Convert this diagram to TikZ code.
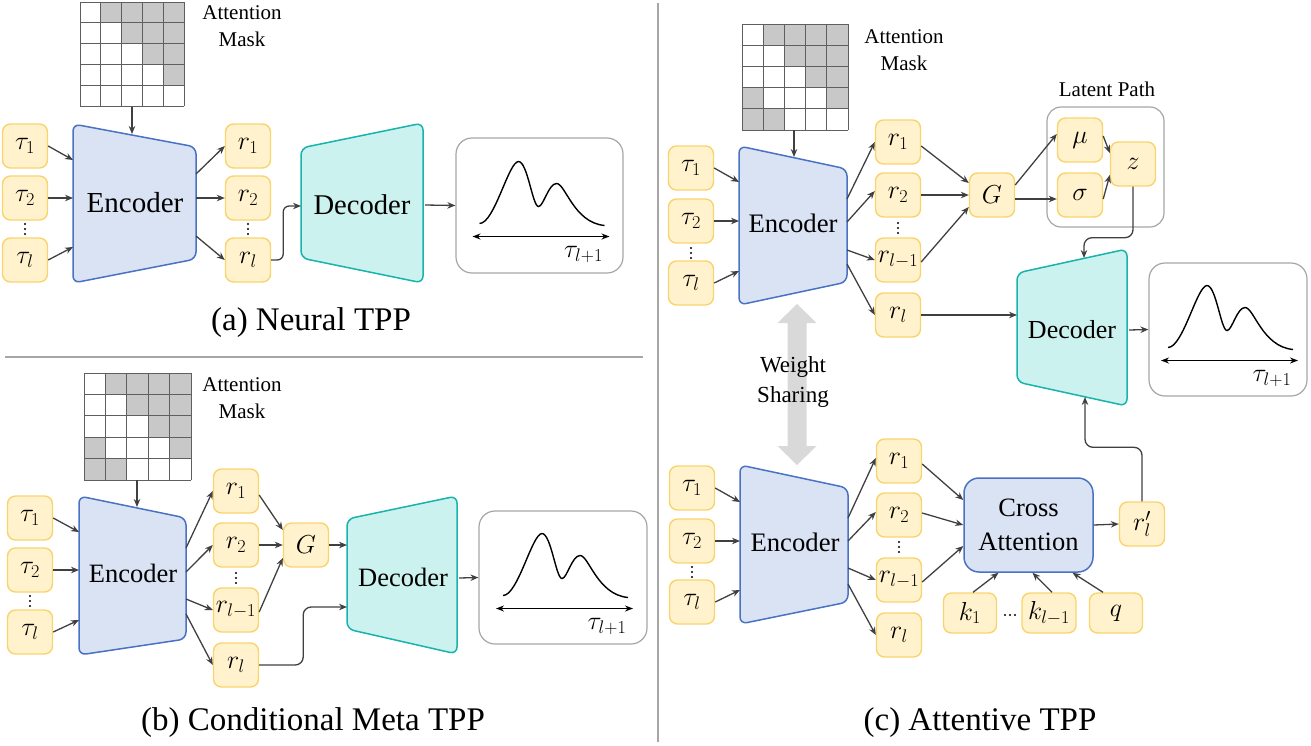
\RequirePackage{fix-cm}
\documentclass[tikz,border=0pt]{standalone}
\usepackage{fontspec}
\setmainfont{Liberation Serif}
\usetikzlibrary{arrows.meta}
\definecolor{yfill}{HTML}{FFF2CC}
\definecolor{ydraw}{HTML}{F9D46E}
\definecolor{efill}{HTML}{DAE3F3}
\definecolor{edraw}{HTML}{4A72C4}
\definecolor{dfill}{HTML}{CCF2EF}
\definecolor{ddraw}{HTML}{17B3AD}
\definecolor{arrc}{HTML}{404040}
\definecolor{outc}{HTML}{A6A6A6}
\definecolor{sepc}{HTML}{A6A6A6}
\definecolor{maskg}{HTML}{C8C8C8}
\definecolor{maskl}{HTML}{5F5F5F}
\definecolor{wsc}{HTML}{D9D9D9}
\newcommand{\drawmask}[4]{%
  \foreach \c/\r in {#4} {\fill[maskg] ({#1+\c*#3},{#2+\r*#3}) rectangle ++(#3,#3);}
  \foreach \i in {0,...,5} {%
    \draw[maskl, line width=0.9pt] ({#1+\i*#3},#2) -- ++(0,{5*#3});
    \draw[maskl, line width=0.9pt] (#1,{#2+\i*#3}) -- ++({5*#3},0);
  }%
}
\newcommand{\vdt}[2]{\fill[black] (#1,{#2-5}) circle[radius=1.1pt] (#1,#2) circle[radius=1.1pt] (#1,{#2+5}) circle[radius=1.1pt];}
\newcommand{\hdt}[2]{\fill[black] ({#1-5},#2) circle[radius=1.1pt] (#1,#2) circle[radius=1.1pt] ({#1+5},#2) circle[radius=1.1pt];}
\begin{document}
\begin{tikzpicture}[x=1pt,y=-1pt,
  ybox/.style={draw=ydraw, fill=yfill, line width=1.4pt, rounded corners=8pt, minimum width=45pt, minimum height=44pt, inner sep=0pt, font=\fontsize{26}{30}\selectfont},
  enc/.style={draw=edraw, fill=efill, line width=1.5pt, rounded corners=7pt},
  dec/.style={draw=ddraw, fill=dfill, line width=1.5pt, rounded corners=7pt},
  arr/.style={draw=arrc, line width=1.3pt, -{Stealth[length=8pt,width=6.5pt]}},
  outbox/.style={draw=outc, line width=1.2pt, rounded corners=16pt, inner sep=0pt},
  lbl/.style={font=\fontsize{21}{26.5}\selectfont, align=center, inner sep=0pt},
  bigtxt/.style={font=\fontsize{27}{32}\selectfont, inner sep=0pt},
  captxt/.style={font=\fontsize{33}{38}\selectfont, inner sep=0pt},
  sepline/.style={draw=sepc, line width=1.2pt},
  crossbox/.style={draw=edraw, fill=efill, line width=1.5pt, rounded corners=15pt, minimum width=129pt, minimum height=94pt, align=center, inner sep=0pt, font=\fontsize{26.5}{34}\selectfont},
  density/.pic={
    \draw[line width=1.4pt, black] (-60,18) .. controls (-45,18) and (-31,-44) .. (-21,-44) .. controls (-12,-44) and (-7,1) .. (-1,1) .. controls (4,1) and (9,-22) .. (17,-22) .. controls (26,-22) and (34,17) .. (65,20);
    \draw[line width=1.3pt, {Stealth[length=8pt,width=6pt]}-{Stealth[length=8pt,width=6pt]}] (-67,31) -- (70,31);
    \node[font=\fontsize{26}{30}\selectfont, inner sep=0pt] (-lbl) at (44,49) {$\tau_{l+1}$};
  }
]
\useasboundingbox (0,0) rectangle (1311,745);

% separators
\draw[sepline] (5,357) -- (643,357);
\draw[sepline] (658,3) -- (658,742);

%%%%%%%%%%%%%%%% (a)
\drawmask{80}{2}{20.8}{1/0,2/0,3/0,4/0,2/1,3/1,4/1,3/2,4/2,4/3}
\node[lbl] (amlbl) at (242,26) {Attention\\Mask};
\draw[enc] (73,124) -- (196,147) -- (196,259) -- (73,283) -- cycle;
\node[bigtxt, font=\fontsize{29}{34}\selectfont] (aenc) at (135,203) {Encoder};
\draw[dec] (301,148) -- (423,123) -- (423,283) -- (301,258) -- cycle;
\node[bigtxt, font=\fontsize{28.6}{34}\selectfont] (adec) at (362,205) {Decoder};
\node[ybox] (at1) at (25,146) {$\tau_1$};
\node[ybox] (at2) at (25,198) {$\tau_2$};
\node[ybox] (atl) at (25,260) {$\tau_l$};
\vdt{25}{229}
\node[ybox] (ar1) at (248,146) {$r_1$};
\node[ybox] (ar2) at (248,198) {$r_2$};
\node[ybox] (arl) at (248,260) {$r_l$};
\vdt{248}{229}
\node[outbox, minimum width=167pt, minimum height=135pt] (aout) at (539.5,205.5) {};
\pic (aden) at (aout.center) {density};
\coordinate (aMk) at (132,107); \coordinate (aEt) at (132,134);
\coordinate (aEi1) at (73,160); \coordinate (aEi2) at (73,198); \coordinate (aEi3) at (73,247);
\coordinate (aEo1) at (196,174); \coordinate (aEo2) at (196,198); \coordinate (aEo3) at (196,236);
\coordinate (aDi) at (301,206); \coordinate (aDo) at (423,205);
\draw[arr] (aMk) -- (aEt);
\draw[arr] (at1.east) -- (aEi1);
\draw[arr] (at2.east) -- (aEi2);
\draw[arr] (atl.east) -- (aEi3);
\draw[arr] (aEo1) -- (ar1.west);
\draw[arr] (aEo2) -- (ar2.west);
\draw[arr] (aEo3) -- (arl.west);
\draw[arr, rounded corners=6pt] (arl.east) -- ++(12,0) |- (aDi);
\draw[arr] ([xshift=2pt]aDo) -- (aout.west);
\node[captxt] (acap) at (311,323) {(a) Neural TPP};

%%%%%%%%%%%%%%%% (b)
\drawmask{84}{373}{21.4}{1/0,2/0,3/0,4/0,2/1,3/1,4/1,3/2,4/2,4/3,0/3,0/4,1/4}
\node[lbl] (bmlbl) at (242,398) {Attention\\Mask};
\draw[enc] (79,496) -- (186,518) -- (186,639) -- (79,655) -- cycle;
\node[bigtxt, font=\fontsize{26.5}{32}\selectfont] (benc) at (133,573) {Encoder};
\draw[dec] (347,519) -- (457,496) -- (457,654) -- (347,629) -- cycle;
\node[bigtxt, font=\fontsize{26.5}{32}\selectfont] (bdec) at (403,577) {Decoder};
\node[ybox] (bt1) at (30,518) {$\tau_1$};
\node[ybox] (bt2) at (30,570) {$\tau_2$};
\node[ybox] (btl) at (30,632) {$\tau_l$};
\vdt{30}{601}
\node[ybox] (br1) at (236,491) {$r_1$};
\node[ybox] (br2) at (236,545) {$r_2$};
\node[ybox] (brm) at (236,610) {$r_{l-1}$};
\node[ybox] (brl) at (236,665) {$r_l$};
\vdt{236}{578}
\node[ybox] (bG) at (306,545) {$G$};
\node[outbox, minimum width=168pt, minimum height=133pt] (bout) at (563,577.5) {};
\pic (bden) at (bout.center) {density};
\coordinate (bMk) at (137,480); \coordinate (bEt) at (137,507);
\coordinate (bEi1) at (79,532); \coordinate (bEi2) at (79,570); \coordinate (bEi3) at (79,620);
\coordinate (bEo1) at (186,548); \coordinate (bEo2) at (186,572); \coordinate (bEo3) at (186,599); \coordinate (bEo4) at (186,614);
\coordinate (bDi1) at (347,545); \coordinate (bDi2) at (347,607); \coordinate (bDo) at (457,578);
\draw[arr] (bMk) -- (bEt);
\draw[arr] (bt1.east) -- (bEi1);
\draw[arr] (bt2.east) -- (bEi2);
\draw[arr] (btl.east) -- (bEi3);
\draw[arr] (bEo1) -- (br1.west);
\draw[arr] (bEo2) -- (br2.west);
\draw[arr] (bEo3) -- (brm.west);
\draw[arr] (bEo4) -- (brl.west);
\draw[arr] ([yshift=-4pt]br1.east) -- ([yshift=15pt]bG.west);
\draw[arr] (br2.east) -- (bG.west);
\draw[arr] ([yshift=-2pt]brm.east) -- ([yshift=-13pt]bG.west);
\draw[arr] (bG.east) -- (bDi1);
\draw[arr, rounded corners=8pt] (brl.east) -- ++(44,0) |- (bDi2);
\draw[arr] ([xshift=2pt]bDo) -- (bout.west);
\node[captxt] (bcap) at (313,723) {(b) Conditional Meta TPP};

%%%%%%%%%%%%%%%% (c) top
\drawmask{742}{24}{21.2}{1/0,2/0,3/0,4/0,2/1,3/1,4/1,3/2,4/2,4/3,0/3,0/4,1/4}
\node[lbl] (cmlbl) at (904,50) {Attention\\Mask};
\draw[enc] (739,146) -- (847,169) -- (847,282) -- (739,305) -- cycle;
\node[bigtxt, font=\fontsize{26.7}{32}\selectfont] (cenc) at (793,223) {Encoder};
\draw[dec] (1017,273) -- (1127,249) -- (1127,406) -- (1017,382) -- cycle;
\node[bigtxt, font=\fontsize{26}{32}\selectfont] (cdec) at (1072,330) {Decoder};
\node[ybox] (ct1) at (691,168) {$\tau_1$};
\node[ybox] (ct2) at (691,221) {$\tau_2$};
\node[ybox] (ctl) at (691,283) {$\tau_l$};
\vdt{691}{253}
\node[ybox] (cr1) at (898,142) {$r_1$};
\node[ybox] (cr2) at (898,195) {$r_2$};
\node[ybox] (crm) at (898,260) {$r_{l-1}$};
\node[ybox] (crl) at (898,315) {$r_l$};
\vdt{898}{228}
\node[ybox] (cG) at (992,195) {$G$};
\node[outbox, rounded corners=14pt, minimum width=117pt, minimum height=120pt] (lat) at (1105.5,167) {};
\node[lbl] (latlbl) at (1107,89) {Latent Path};
\node[ybox] (cmu) at (1080,140) {$\mu$};
\node[ybox] (csig) at (1080,195) {$\sigma$};
\node[ybox] (cz) at (1133,164) {$z$};
\node[outbox, minimum width=158pt, minimum height=133pt] (cout) at (1228,329.5) {};
\pic (cden) at (cout.center) {density};
\coordinate (cMk) at (794,130); \coordinate (cEt) at (794,157);
\coordinate (cEi1) at (739,182); \coordinate (cEi2) at (739,221); \coordinate (cEi3) at (739,271);
\coordinate (cEo1) at (847,199); \coordinate (cEo2) at (847,222); \coordinate (cEo3) at (847,250); \coordinate (cEo4) at (847,264);
\coordinate (cDt) at (1084,258); \coordinate (cDi) at (1017,315); \coordinate (cDo) at (1127,330); \coordinate (cDb) at (1085,397);
\draw[arr] (cMk) -- (cEt);
\draw[arr] (ct1.east) -- (cEi1);
\draw[arr] (ct2.east) -- (cEi2);
\draw[arr] (ctl.east) -- (cEi3);
\draw[arr] (cEo1) -- (cr1.west);
\draw[arr] (cEo2) -- ([yshift=4pt]cr2.west);
\draw[arr] (cEo3) -- (crm.west);
\draw[arr] (cEo4) -- (crl.west);
\draw[arr] ([yshift=-4pt]cr1.east) -- ([yshift=12pt]cG.west);
\draw[arr] (cr2.east) -- (cG.west);
\draw[arr] ([yshift=-2pt]crm.east) -- ([yshift=-12pt]cG.west);
\draw[arr] ([yshift=10pt]cG.east) -- ([yshift=6pt]cmu.west);
\draw[arr] ([yshift=-4pt]cG.east) -- ([yshift=-4pt]csig.west);
\draw[arr] ([yshift=4pt]cmu.east) -- ([yshift=11pt]cz.west);
\draw[arr] ([yshift=-4pt]csig.east) -- ([yshift=-11pt]cz.west);
\draw[arr, rounded corners=8pt] (cz.south) -- ++(0,51) -| (cDt);
\draw[arr] (crl.east) -- (cDi);
\draw[arr] ([xshift=2pt]cDo) -- (cout.west);

% weight sharing
\fill[wsc] (797,304) -- (816.5,323) -- (806.5,323) -- (806.5,446) -- (816.5,446) -- (797,465) -- (777.5,446) -- (787.5,446) -- (787.5,323) -- (777.5,323) -- cycle;
\node[font=\fontsize{23}{30}\selectfont, align=center, inner sep=0pt] (ws) at (793,382) {Weight\\Sharing};

%%%%%%%%%%%%%%%% (c) bottom
\draw[enc] (740,465) -- (848,488) -- (848,602) -- (740,624) -- cycle;
\node[bigtxt, font=\fontsize{26.7}{32}\selectfont] (denc) at (795,542) {Encoder};
\node[ybox] (dt1) at (692,488) {$\tau_1$};
\node[ybox] (dt2) at (692,541) {$\tau_2$};
\node[ybox] (dtl) at (692,602) {$\tau_l$};
\vdt{692}{572}
\node[ybox] (dr1) at (899,461) {$r_1$};
\node[ybox] (dr2) at (899,515) {$r_2$};
\node[ybox] (drm) at (899,580) {$r_{l-1}$};
\node[ybox] (drl) at (899,635) {$r_l$};
\vdt{899}{547}
\node[crossbox] (cross) at (1028.5,525) {Cross\\Attention};
\node[ybox, minimum width=53pt, minimum height=40pt] (k1) at (970,613) {$k_1$};
\node[ybox, minimum width=54pt, minimum height=40pt] (kl) at (1049,613) {$k_{l-1}$};
\node[ybox, minimum width=53pt, minimum height=40pt] (q) at (1116,613) {$q$};
\hdt{1010}{615}
\node[ybox] (rlp) at (1142,524) {$r_l'$};
\coordinate (dEi1) at (740,502); \coordinate (dEi2) at (740,541); \coordinate (dEi3) at (740,590);
\coordinate (dEo1) at (848,518); \coordinate (dEo2) at (848,541); \coordinate (dEo3) at (848,568); \coordinate (dEo4) at (848,584);
\draw[arr] (dt1.east) -- (dEi1);
\draw[arr] (dt2.east) -- (dEi2);
\draw[arr] (dtl.east) -- (dEi3);
\draw[arr] (dEo1) -- ([yshift=3pt]dr1.west);
\draw[arr] (dEo2) -- ([yshift=3pt]dr2.west);
\draw[arr] (dEo3) -- (drm.west);
\draw[arr] (dEo4) -- (drl.west);
\draw[arr] ([yshift=-3pt]dr1.east) -- ([yshift=25pt]cross.west);
\draw[arr] ([yshift=2pt]dr2.east) -- (cross.west);
\draw[arr] ([yshift=-2pt]drm.east) -- ([yshift=-21pt]cross.west);
\draw[arr] ([xshift=3pt]k1.north) -- ([xshift=-30pt]cross.south);
\draw[arr] ([xshift=3pt]kl.north) -- ([xshift=4pt]cross.south);
\draw[arr] ([xshift=-13pt]q.north) -- ([xshift=44pt]cross.south);
\draw[arr] (cross.east) -- (rlp.west);
\draw[arr, rounded corners=8pt] (rlp.north) -- ++(0,-54) -| (cDb);
\node[captxt] (ccap) at (980,723) {(c) Attentive TPP};
\end{tikzpicture}
\end{document}
